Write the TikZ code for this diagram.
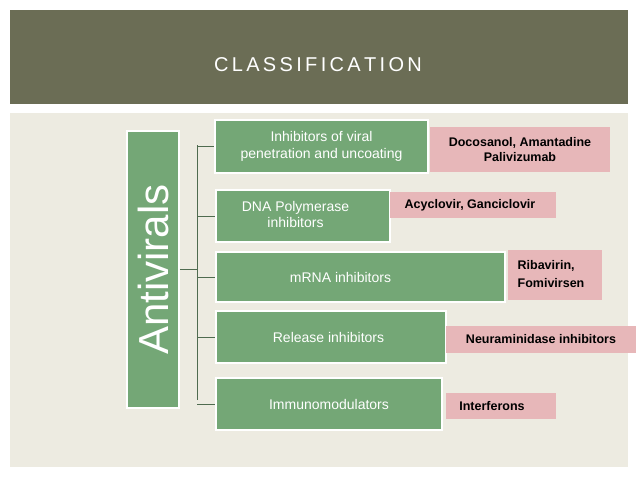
\documentclass[tikz,border=0pt]{standalone}
\usepackage{fontspec}
\setmainfont{Liberation Sans}
\definecolor{hdr}{HTML}{6B6D55}
\definecolor{bg}{HTML}{EDEBE1}
\definecolor{grn}{HTML}{74A776}
\definecolor{pnk}{HTML}{E7B7B9}
\definecolor{ln}{HTML}{4F6B4F}
\begin{document}
\begin{tikzpicture}[x=1pt,y=-1pt,
  gbox/.style={draw=white,line width=1.5pt,fill=grn,text=white,font=\fontsize{14}{16.5}\selectfont,align=center,inner sep=0},
  pbox/.style={fill=pnk,font=\bfseries\fontsize{12.5}{15}\selectfont,align=center,inner sep=0},
  conn/.style={draw=ln,line width=0.8pt}]
\useasboundingbox (0,0) rectangle (638,479);
\fill[white] (0,0) rectangle (638,479);
\fill[hdr] (10,10) rectangle (628,104);
\fill[bg] (10,113) rectangle (628,467);
\node[text=white,font=\fontsize{20}{22}\selectfont] (t) at (318,65) {C\,L\,A\,S\,S\,I\,F\,I\,C\,A\,T\,I\,O\,N};
\node[gbox,minimum width=52pt,minimum height=277pt,font=\fontsize{42}{42}\selectfont] (a) at (153,269.5) {\rotatebox{90}{Antivirals}};
\node[gbox,minimum width=213pt,minimum height=53pt] (b1) at (321.5,146.5) {Inhibitors of viral\\penetration and uncoating};
\node[gbox,minimum width=174pt,minimum height=52pt] (b2) at (303,216) {\hspace*{-15pt}\begin{tabular}{@{}c@{}}DNA Polymerase\\inhibitors\end{tabular}};
\node[gbox,minimum width=289pt,minimum height=50pt] (b3) at (360.5,277) {\hspace*{-40pt}mRNA inhibitors};
\node[gbox,minimum width=230pt,minimum height=52pt] (b4) at (331,337) {\hspace*{-5pt}Release inhibitors};
\node[gbox,minimum width=226pt,minimum height=52pt] (b5) at (329,404) {Immunomodulators};
\node[pbox,minimum width=180pt,minimum height=45pt] (p1) at (520,149.5) {Docosanol, Amantadine\\Palivizumab};
\node[pbox,minimum width=166pt,minimum height=26pt] (p2) at (473,205) {\hspace*{-6pt}Acyclovir, Ganciclovir};
\node[pbox,minimum width=94pt,minimum height=50pt,align=left] (p3) at (555,275) {\hspace*{-8pt}\begin{tabular}{@{}l@{}}Ribavirin,\\[3pt]Fomivirsen\end{tabular}};
\node[pbox,minimum width=190pt,minimum height=27pt] (p4) at (541,339.5) {Neuraminidase inhibitors};
\node[pbox,minimum width=110pt,minimum height=26pt] (p5) at (501,406) {\hspace*{-18pt}Interferons};
\coordinate (top) at (197,145);
\coordinate (bot) at (197,400);
\draw[conn] (top) -- (bot);
\draw[conn] (a.east) -- (a.east -| top);
\foreach \b in {b1,b2,b3,b4,b5} \draw[conn] (\b.west -| top) -- (\b.west);
\end{tikzpicture}
\end{document}
